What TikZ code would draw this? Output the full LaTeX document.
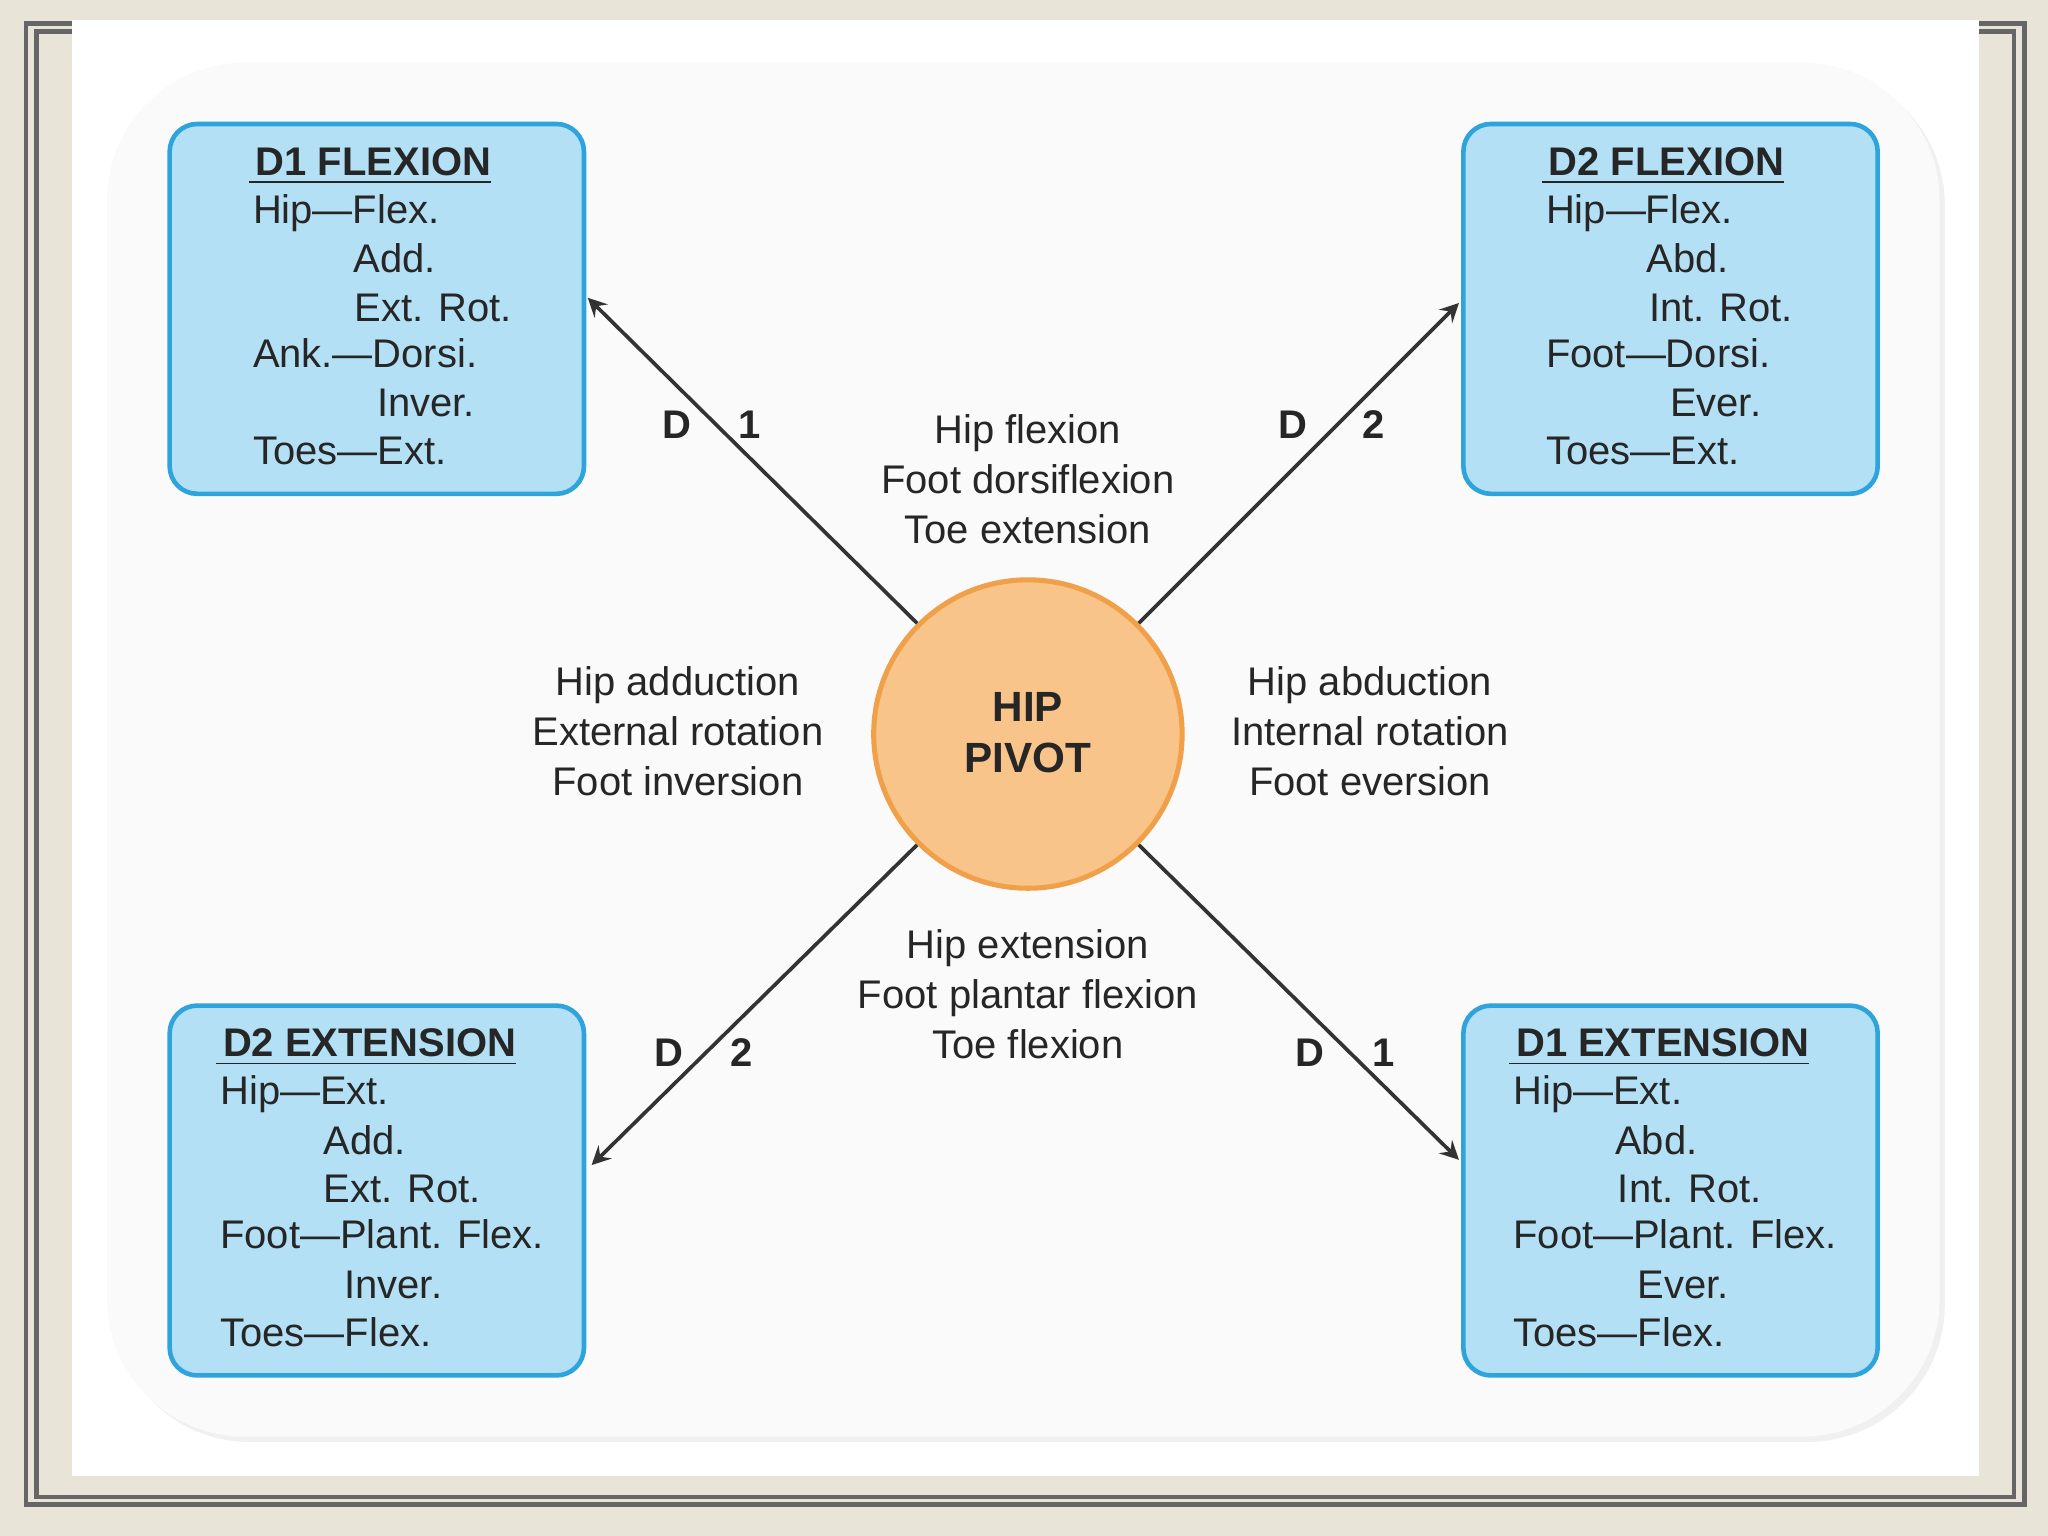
\documentclass[tikz,border=0pt]{standalone}
\usepackage{fontspec}
\setmainfont{Liberation Sans}
\definecolor{bfill}{HTML}{B3E0F5}
\definecolor{bdraw}{HTML}{2EA3DC}
\definecolor{ofill}{HTML}{F9C48A}
\definecolor{odraw}{HTML}{F0A048}
\definecolor{beige}{HTML}{E9E4D8}
\begin{document}
\begin{tikzpicture}[x=0.01cm,y=-0.01cm,
  box/.style={draw=bdraw, line width=1pt, fill=bfill, rounded corners=6pt, minimum width=3.17cm, minimum height=2.83cm, inner sep=0},
  t/.style={anchor=base west, inner sep=0, font=\fontsize{8.7}{10.5}\selectfont, text=black!85},
  c/.style={align=center, inner sep=0, font=\fontsize{8.7}{10.9}\selectfont, text=black!85},
  d/.style={inner sep=0, font=\bfseries\fontsize{8.7}{10}\selectfont, text=black!85},
  arr/.style={-stealth, line width=0.8pt, black!80}]
\useasboundingbox (0,0) rectangle (1568,1176);
\fill[beige] (0,0) rectangle (1568,1176);
\draw[black!60, line width=1pt] (20,18) rectangle (1550,1152);
\draw[black!60, line width=1pt] (28,24) rectangle (1542,1146);
\fill[white] (55,15) rectangle (1515,1130);
\fill[black!6, rounded corners=30pt] (86,52) rectangle (1489,1104);
\fill[black!2, rounded corners=30pt] (82,48) rectangle (1485,1100);
% boxes
\node[box] (bx1) at (288.5,236.5) {};
\node[box] (bx2) at (1279,236.5) {};
\node[box] (bx3) at (288.5,911.5) {};
\node[box] (bx4) at (1279,911.5) {};
\coordinate (A) at (450,228);
\coordinate (B) at (1117,232);
\coordinate (C) at (453,892);
\coordinate (E) at (1117,888);
% circle
\node[circle, draw=odraw, line width=1.1pt, fill=ofill, minimum size=2.36cm, inner sep=0] (p) at (787,562) {};
\node[d, align=center, font=\bfseries\fontsize{9.2}{11}\selectfont] (pt) at (787,561) {HIP\\PIVOT};
\draw[arr] (p.135) -- (A);
\draw[arr] (p.45) -- (B);
\draw[arr] (p.225) -- (C);
\draw[arr] (p.315) -- (E);
% D labels
\node[d] (d1a) at (518,325) {D}; \node[d] (d1b) at (574,325) {1};
\node[d] (d2a) at (990,325) {D}; \node[d] (d2b) at (1052,325) {2};
\node[d] (d3a) at (512,806) {D}; \node[d] (d3b) at (568,806) {2};
\node[d] (d4a) at (1003,806) {D}; \node[d] (d4b) at (1059,806) {1};
% center labels
\node[c] (ct) at (787,367) {Hip flexion\\Foot dorsiflexion\\Toe extension};
\node[c] (cl) at (519,560) {Hip adduction\\External rotation\\Foot inversion};
\node[c] (cr) at (1049,560) {Hip abduction\\Internal rotation\\Foot eversion};
\node[c] (cb) at (787,761) {Hip extension\\Foot plantar flexion\\Toe flexion};
% D1 flexion
\node[t] (a0) at (190,134) {\textbf{\underline{\,D1 FLEXION}}};
\node[t] (a1) at (193,171) {Hip—Flex.};
\node[t] (a2) at (270,209) {Add.};
\node[t] (a3) at (271,246) {Ext. Rot.};
\node[t] (a4) at (193,281) {Ank.—Dorsi.};
\node[t] (a5) at (288,319) {Inver.};
\node[t] (a6) at (193,356) {Toes—Ext.};
% D2 flexion
\node[t] (b0) at (1180,134) {\textbf{\underline{\,D2 FLEXION}}};
\node[t] (b1) at (1183,171) {Hip—Flex.};
\node[t] (b2) at (1260,209) {Abd.};
\node[t] (b3) at (1262,246) {Int. Rot.};
\node[t] (b4) at (1183,281) {Foot—Dorsi.};
\node[t] (b5) at (1278,319) {Ever.};
\node[t] (b6) at (1183,356) {Toes—Ext.};
% D2 extension
\node[t] (c0) at (165,809) {\textbf{\underline{\,D2 EXTENSION}}};
\node[t] (c1) at (168,846) {Hip—Ext.};
\node[t] (c2) at (247,884) {Add.};
\node[t] (c3) at (247,921) {Ext. Rot.};
\node[t] (c4) at (168,956) {Foot—Plant. Flex.};
\node[t] (c5) at (263,994) {Inver.};
\node[t] (c6) at (168,1031) {Toes—Flex.};
% D1 extension
\node[t] (e0) at (1155,809) {\textbf{\underline{\,D1 EXTENSION}}};
\node[t] (e1) at (1158,846) {Hip—Ext.};
\node[t] (e2) at (1236,884) {Abd.};
\node[t] (e3) at (1238,921) {Int. Rot.};
\node[t] (e4) at (1158,956) {Foot—Plant. Flex.};
\node[t] (e5) at (1253,994) {Ever.};
\node[t] (e6) at (1158,1031) {Toes—Flex.};
\end{tikzpicture}
\end{document}
